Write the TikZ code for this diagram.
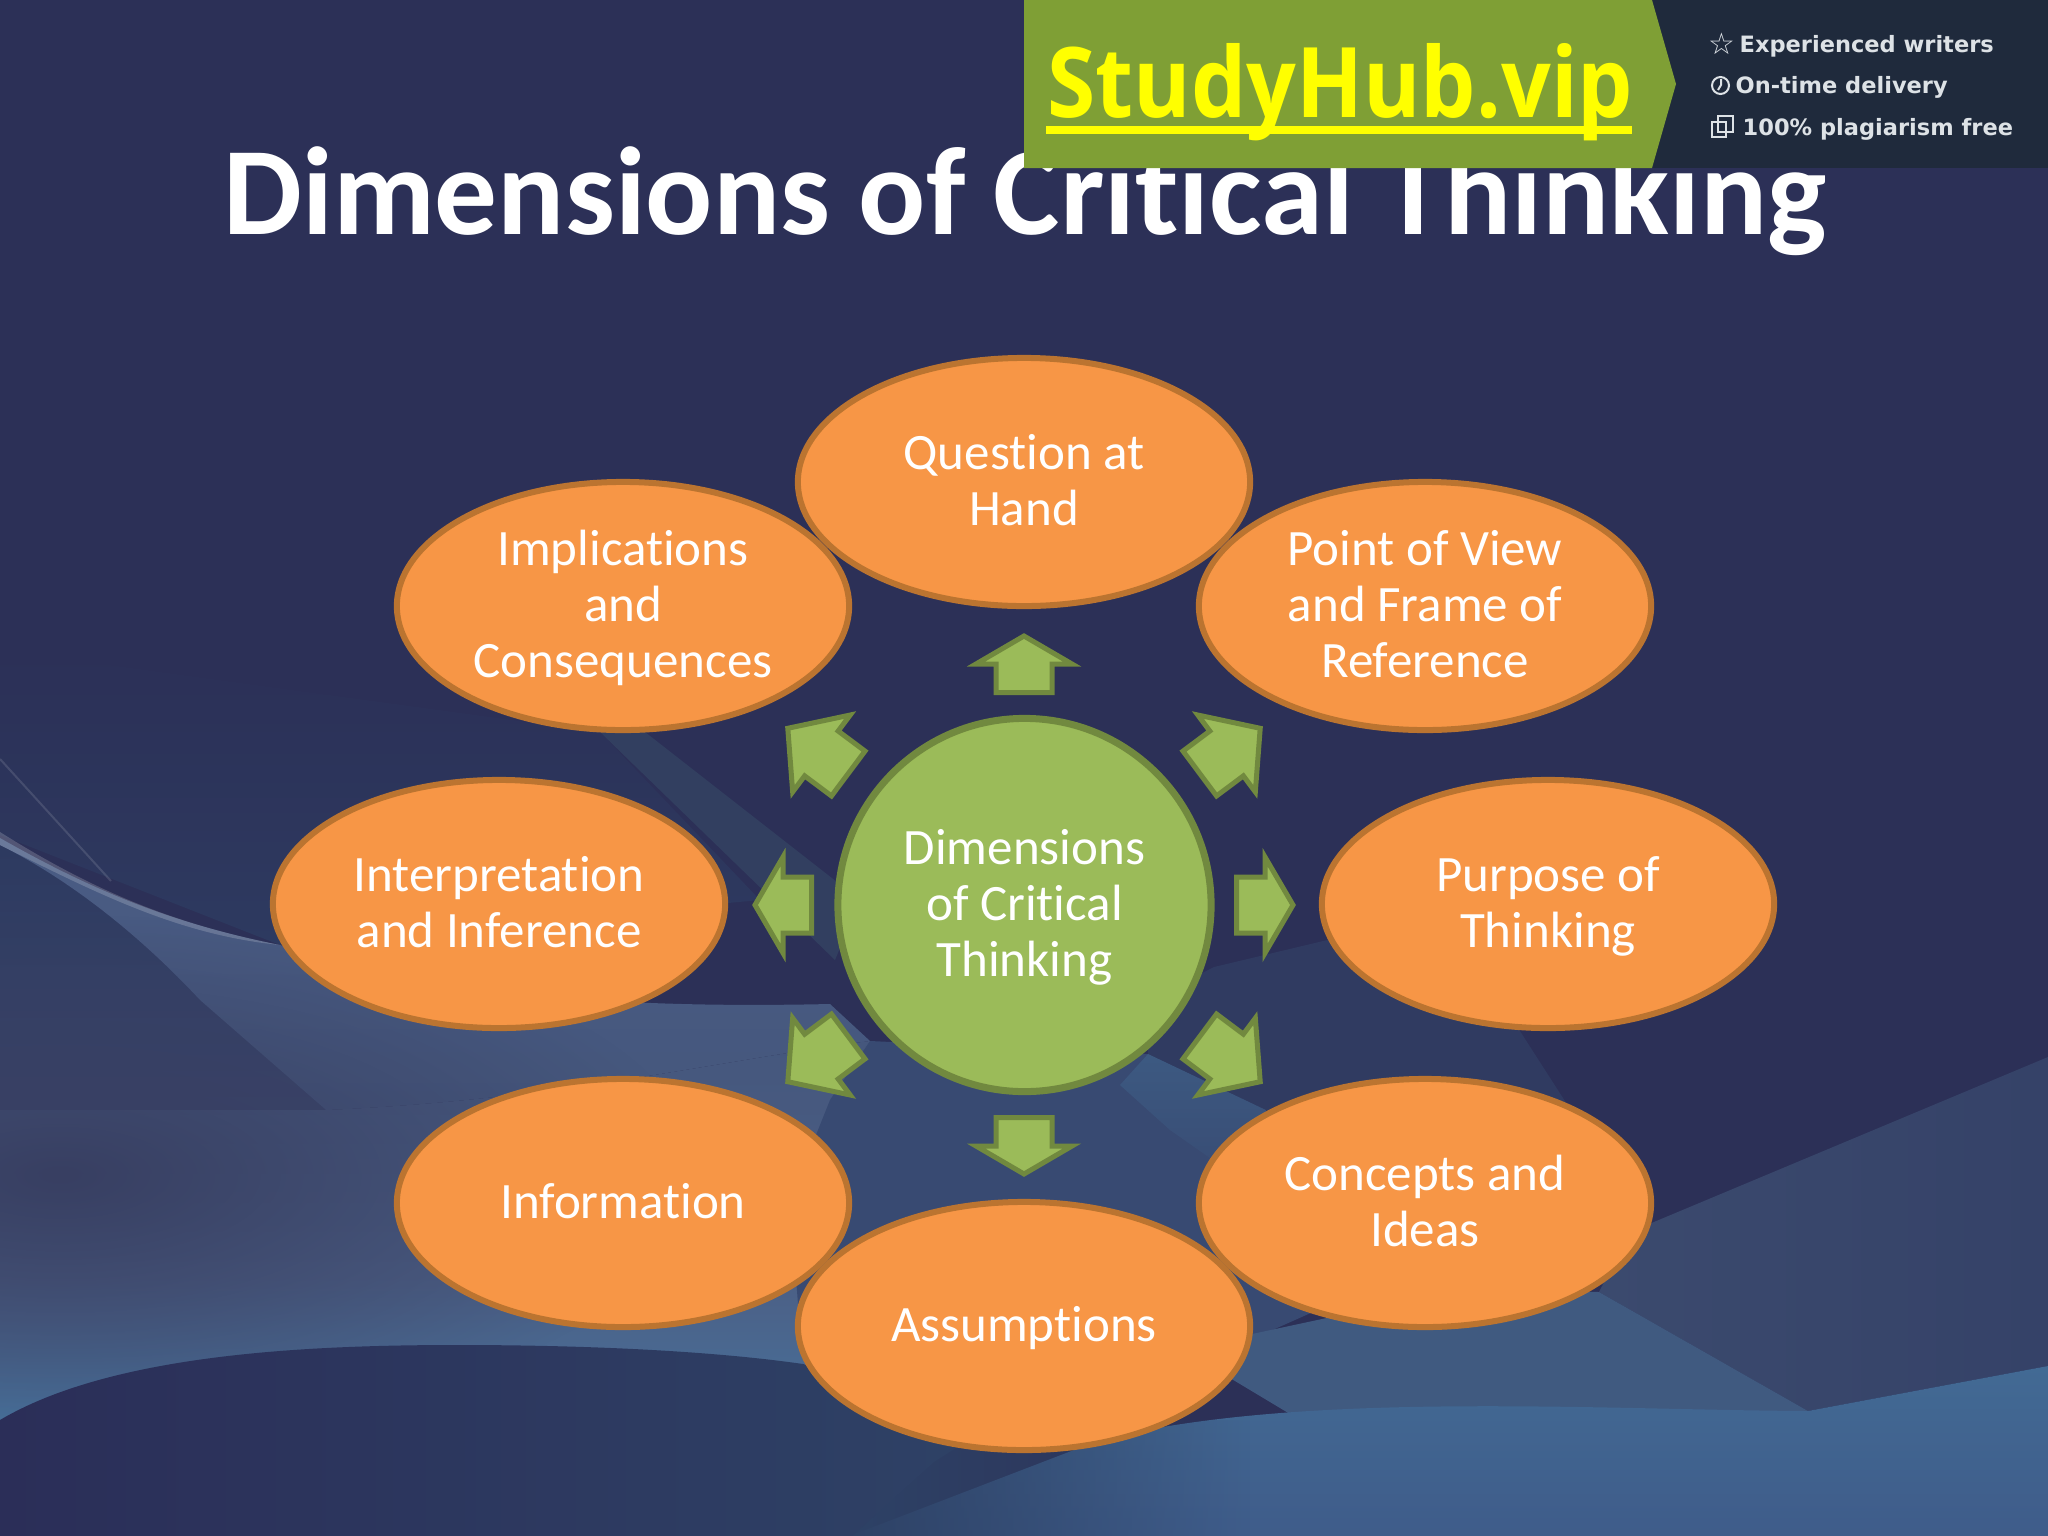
\documentclass[tikz,border=0pt]{standalone}
\usepackage{fontspec}
\setmainfont{Carlito}[Ligatures=CommonOff]
\newfontfamily\djv{DejaVu Sans}
\newfontfamily\osans{Open Sans}
\usetikzlibrary{shapes.geometric,fadings}
\definecolor{navy}{HTML}{2C3057}
\definecolor{orfill}{HTML}{F79646}
\definecolor{orline}{HTML}{BB7430}
\definecolor{grfill}{HTML}{9BBB59}
\definecolor{grline}{HTML}{71893F}
\definecolor{banner}{HTML}{7F9F35}
\definecolor{darkbar}{HTML}{1F2A3C}
\definecolor{sidetext}{HTML}{DDE2E6}
\definecolor{hubyellow}{HTML}{FFFF00}
\definecolor{wa}{HTML}{2D3A60}
\definecolor{wb}{HTML}{39446A}
\definecolor{wc}{HTML}{4A5C84}
\definecolor{wd}{HTML}{45577D}
\definecolor{we}{HTML}{323F60}
\definecolor{wf}{HTML}{4C5F85}
\definecolor{wg}{HTML}{47709A}
\definecolor{wh}{HTML}{383F62}
\definecolor{wi}{HTML}{384A72}
\definecolor{wj}{HTML}{3D5A82}
\definecolor{wk}{HTML}{303B61}
\definecolor{wl}{HTML}{3B4A6E}
\definecolor{wm}{HTML}{354268}
\definecolor{wn}{HTML}{405A80}
\definecolor{wo}{HTML}{426A94}
\definecolor{wp}{HTML}{3F5C8A}
\definecolor{wq}{HTML}{2B2E58}
\definecolor{wr}{HTML}{2E4266}
\pgfdeclareverticalshading{lowband}{100bp}{color(0bp)=(wg); color(25bp)=(wg); color(44bp)=(wf); color(75bp)=(wd); color(100bp)=(wd)}
\tikzfading[name=softblob,inner color=transparent!0,outer color=transparent!100]
\newcommand{\ptop}{\vrule width 0pt height 13pt depth 0pt\relax}
\newcommand{\pbot}{\vrule width 0pt height 0pt depth 4pt\relax}
\tikzset{
  petal/.style={ellipse,draw=orline,fill=orfill,line width=0.06cm,minimum width=4.52cm,minimum height=2.48cm,inner sep=0pt,text=white,align=center,font=\fontsize{14.5}{15.9}\selectfont},
  hub/.style={circle,draw=grline,fill=grfill,line width=0.07cm,minimum size=3.73cm,inner sep=0pt,text=white,align=center,font=\fontsize{14.5}{15.9}\selectfont},
  blockarrow/.style={draw=grline,fill=grfill,line width=0.05cm,line join=miter,miter limit=12},
  sideline/.style={anchor=base west,inner sep=0pt,text=sidetext,font=\djv\bfseries\fontsize{6.4}{7}\selectfont},
  iconline/.style={draw=sidetext,line width=.02cm},
}
\newcommand{\blockarw}[4]{%
  \begin{scope}[shift={(1024,905)},rotate=#1]
    \path[blockarrow] (#2,-28) -- (#3,-28) -- (#3,-48) -- (#4,0) -- (#3,48) -- (#3,28) -- (#2,28) -- cycle;
  \end{scope}}
\begin{document}
\begin{tikzpicture}[x=0.01cm,y=-0.01cm]
\useasboundingbox (0,0) rectangle (2048,1536);
\fill[navy] (0,0) rectangle (2048,1536);
% background waves
\shade[top color=navy,bottom color=wa] (0,650) -- (600,732) -- (760,900) -- (280,945) -- (0,835) -- cycle;
\shade[top color=wa,bottom color=wb] (0,845) .. controls (60,875) and (130,925) .. (200,1000) -- (326,1110) -- (0,1110) -- cycle;
\shade[top color=wc,bottom color=wd] (0,838) .. controls (100,895) and (180,925) .. (280,945) .. controls (420,985) and (560,1010) .. (830,1004) -- (870,1041) .. controls (720,1060) and (560,1100) .. (326,1110) -- (200,1000) .. controls (130,925) and (60,875) .. (0,845) -- cycle;
\fill[white,opacity=.18] (0,832) .. controls (100,895) and (180,925) .. (280,945) .. controls (180,935) and (100,895) .. (0,845) -- cycle;
\fill[we] (600,732) -- (645,732) -- (860,900) -- (835,960) -- cycle;
\draw[white,opacity=.12,line width=.02cm] (0,759) -- (111,881);
\path[shading=lowband] (0,1110) -- (326,1110) .. controls (560,1100) and (720,1060) .. (870,1041) -- (1260,1340) -- (1100,1420) -- (0,1420) -- cycle;
\fill[wh,path fading=softblob] (60,1175) ellipse (640 and 260);
\fill[wi] (870,1041) -- (1148,1054) -- (1266,1110) -- (1340,1300) -- (1250,1340) -- (1100,1440) -- (800,1330) -- (790,1200) -- (830,1100) -- cycle;
\fill[wk] (1150,1000) -- (1214,967) -- (1340,937) -- (1500,1000) -- (1680,1280) -- (1340,1300) -- (1266,1110) -- (1148,1054) -- cycle;
\fill[wj,path fading=south] (1120,1085) -- (1148,1054) -- (1266,1110) -- (1270,1200) -- (1170,1130) -- cycle;
\shade[left color=wl,right color=wm] (1630,1232) -- (2048,1057) -- (2048,1366) -- (1808,1411) -- (1599,1292) -- cycle;
\fill[wn] (1200,1360) -- (1252,1334) -- (1350,1313) -- (1500,1290) -- (1599,1292) -- (1808,1411) -- (1300,1420) -- cycle;
\shade[top color=wo,bottom color=wp] (1100,1440) .. controls (1300,1390) and (1600,1410) .. (1808,1411) -- (2048,1366) -- (2048,1536) -- (850,1536) -- cycle;
\fill[wr,path fading=east] (850,1420) rectangle (1250,1536);
\shade[left color=wq,right color=wr] (0,1420) .. controls (110,1355) and (300,1345) .. (457,1345) .. controls (600,1345) and (720,1352) .. (803,1364) -- (1000,1420) -- (934,1462) -- (852,1536) -- (0,1536) -- cycle;
% title
\node[inner sep=0pt,anchor=base,text=white,font=\fontsize{35.6}{40}\selectfont\bfseries] (title) at (1025,234) {Dimensions of Critical Thinking};
% banner
\fill[darkbar] (1640,0) rectangle (2048,168);
\fill[banner] (1024,0) -- (1652,0) -- (1676,84) -- (1652,168) -- (1024,168) -- cycle;
\node[inner sep=0pt,anchor=base west,text=hubyellow] (brand) at (1047,117) {\resizebox{5.85cm}{0.74cm}{\osans\bfseries StudyHub.vip}};
\fill[hubyellow] (1046,126) rectangle (1632,134);
\node[sideline] (s1) at (1739,52) {Experienced writers};
\node[sideline] (s2) at (1735,93) {On-time delivery};
\node[sideline] (s3) at (1742,135) {100\% plagiarism free};
\node[inner sep=0pt,text=sidetext,font=\djv\fontsize{8.5}{9}\selectfont] (star) at (1722,44) {☆};
\path[iconline] (1720.5,85.5) circle (8.5);
\path[iconline] (1721,79) -- (1721,85) -- (1718,90);
\path[iconline] (1718,116) rectangle (1733,132);
\path[iconline] (1712,122) rectangle (1726,137);
% side petals
\node[petal] (point) at (1425,606) {\ptop Point of View\\and Frame of\\Reference\pbot};
\node[petal] (purpose) at (1548,904) {\ptop Purpose of\\Thinking\pbot};
\node[petal] (concepts) at (1425,1203) {\ptop Concepts and\\Ideas\pbot};
\node[petal] (info) at (623,1203) {\ptop Information\pbot};
\node[petal] (interp) at (499,904) {\ptop Interpretation\\and Inference\pbot};
\node[petal] (impl) at (623,606) {\ptop Implications\\and\\Consequences\pbot};
\node[petal] (question) at (1024,482) {\ptop Question at\\Hand\pbot};
\node[petal] (assume) at (1024,1326) {\ptop Assumptions\pbot};
% hub
\node[hub] (center) at (1024.5,905) {\ptop Dimensions\\of Critical\\Thinking\pbot};
% arrows
\blockarw{90}{212.5}{241}{269}
\blockarw{0}{212.5}{241}{269}
\blockarw{180}{212.5}{241}{269}
\blockarw{270}{212.5}{241}{269}
\blockarw{36.8}{219.5}{253}{295}
\blockarw{143.2}{219.5}{253}{295}
\blockarw{216.8}{219.5}{253}{295}
\blockarw{323.2}{219.5}{253}{295}
\end{tikzpicture}
\end{document}
